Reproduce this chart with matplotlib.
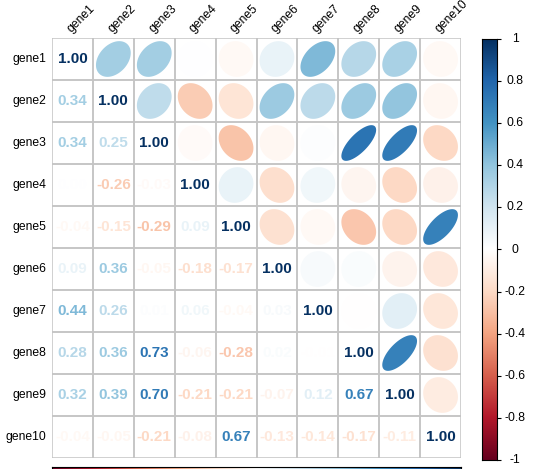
import matplotlib
matplotlib.use("Agg")
import matplotlib.pyplot as plt
import numpy as np
from matplotlib.colors import LinearSegmentedColormap
from matplotlib.patches import Polygon, Rectangle
from matplotlib.transforms import blended_transform_factory

GENES = ["gene1", "gene2", "gene3", "gene4", "gene5",
         "gene6", "gene7", "gene8", "gene9", "gene10"]

# lower triangle of the correlation matrix, row by row
LOWER = [
    [],
    [0.34],
    [0.34, 0.25],
    [0.00, -0.26, -0.03],
    [-0.04, -0.15, -0.29, 0.09],
    [0.09, 0.36, -0.05, -0.18, -0.17],
    [0.44, 0.26, 0.01, 0.06, -0.04, 0.03],
    [0.28, 0.36, 0.73, -0.06, -0.28, 0.02, -0.01],
    [0.32, 0.39, 0.70, -0.21, -0.21, -0.07, 0.12, 0.67],
    [-0.04, -0.05, -0.21, -0.08, 0.67, -0.13, -0.14, -0.17, -0.11],
]

CBAR_TICKS = [-1, -0.8, -0.6, -0.4, -0.2, 0, 0.2, 0.4, 0.6, 0.8, 1]

RDBU = ["#67001F", "#B2182B", "#D6604D", "#F4A582", "#FDDBC7", "#FFFFFF",
        "#D1E5F0", "#92C5DE", "#4393C3", "#2166AC", "#053061"]
cmap = LinearSegmentedColormap.from_list("corr_rdbu", RDBU, N=200)

plt.rcParams["font.family"] = ["Liberation Sans", "DejaVu Sans"]

n = len(GENES)
corr = np.eye(n)
for i, row in enumerate(LOWER):
    for j, v in enumerate(row):
        corr[i, j] = v
        corr[j, i] = v


def col(v):
    return cmap((v + 1) / 2)


W, H = 538, 469
fig = plt.figure(figsize=(W / 100, H / 100), dpi=100)
ax = fig.add_axes([52 / W, 11 / H, 409 / W, 420 / H])
ax.set_xlim(0.5, n + 0.5)
ax.set_ylim(0.5, n + 0.5)
ax.axis("off")

t = np.linspace(0, 2 * np.pi, 99)
for i in range(n):
    y = n - i
    for j in range(n):
        x = j + 1
        ax.add_patch(Rectangle((x - 0.5, y - 0.5), 1, 1, fill=False,
                               edgecolor="#C4C4C4", lw=1.1, zorder=3))
        v = corr[i, j]
        if j <= i:
            ax.text(x, y, f"{v:.2f}", ha="center", va="center",
                    fontsize=11, fontweight="bold", color=col(v), zorder=2)
        else:
            a = np.arccos(v)
            ex = 0.85 * np.cos(t + a / 2) / 2 + x
            ey = 0.85 * np.cos(t - a / 2) / 2 + y
            ax.add_patch(Polygon(np.column_stack([ex, ey]), closed=True,
                                 facecolor=col(v), edgecolor="none", zorder=1))

for i, g in enumerate(GENES):
    ax.text(0.5 - 0.13, n - i, g, ha="right", va="center", fontsize=8.7)
    ax.text(i + 1 + 0.02, n + 0.57, g, ha="left", va="bottom", fontsize=8.7,
            rotation=45, rotation_mode="anchor")

# colour legend on the right
cax = fig.add_axes([482 / W, 9 / H, 15 / W, 421 / H])
grad = np.linspace(-1, 1, 200).reshape(-1, 1)
cax.imshow(grad, cmap=cmap, aspect="auto", origin="lower",
           extent=[0, 1, -1, 1], vmin=-1, vmax=1)
cax.set_xticks([])
cax.yaxis.tick_right()
cax.set_yticks(CBAR_TICKS, labels=[])
cax.tick_params(axis="y", length=3, width=0.8)
for s in cax.spines.values():
    s.set_linewidth(0.8)
tr = blended_transform_factory(cax.transAxes, cax.transData)
for v in CBAR_TICKS:
    cax.text(2.2, v, f"{v:g}", transform=tr, ha="center", va="center",
             fontsize=8.7)

# second legend strip, cut off at the bottom edge
bax = fig.add_axes([52 / W, -8 / H, 409 / W, 10 / H])
bax.imshow(grad.T, cmap=cmap, aspect="auto", extent=[-1, 1, 0, 1],
           vmin=-1, vmax=1)
bax.set_xticks([])
bax.set_yticks([])
for s in bax.spines.values():
    s.set_linewidth(0.8)

fig.savefig("out.png", dpi=100)
